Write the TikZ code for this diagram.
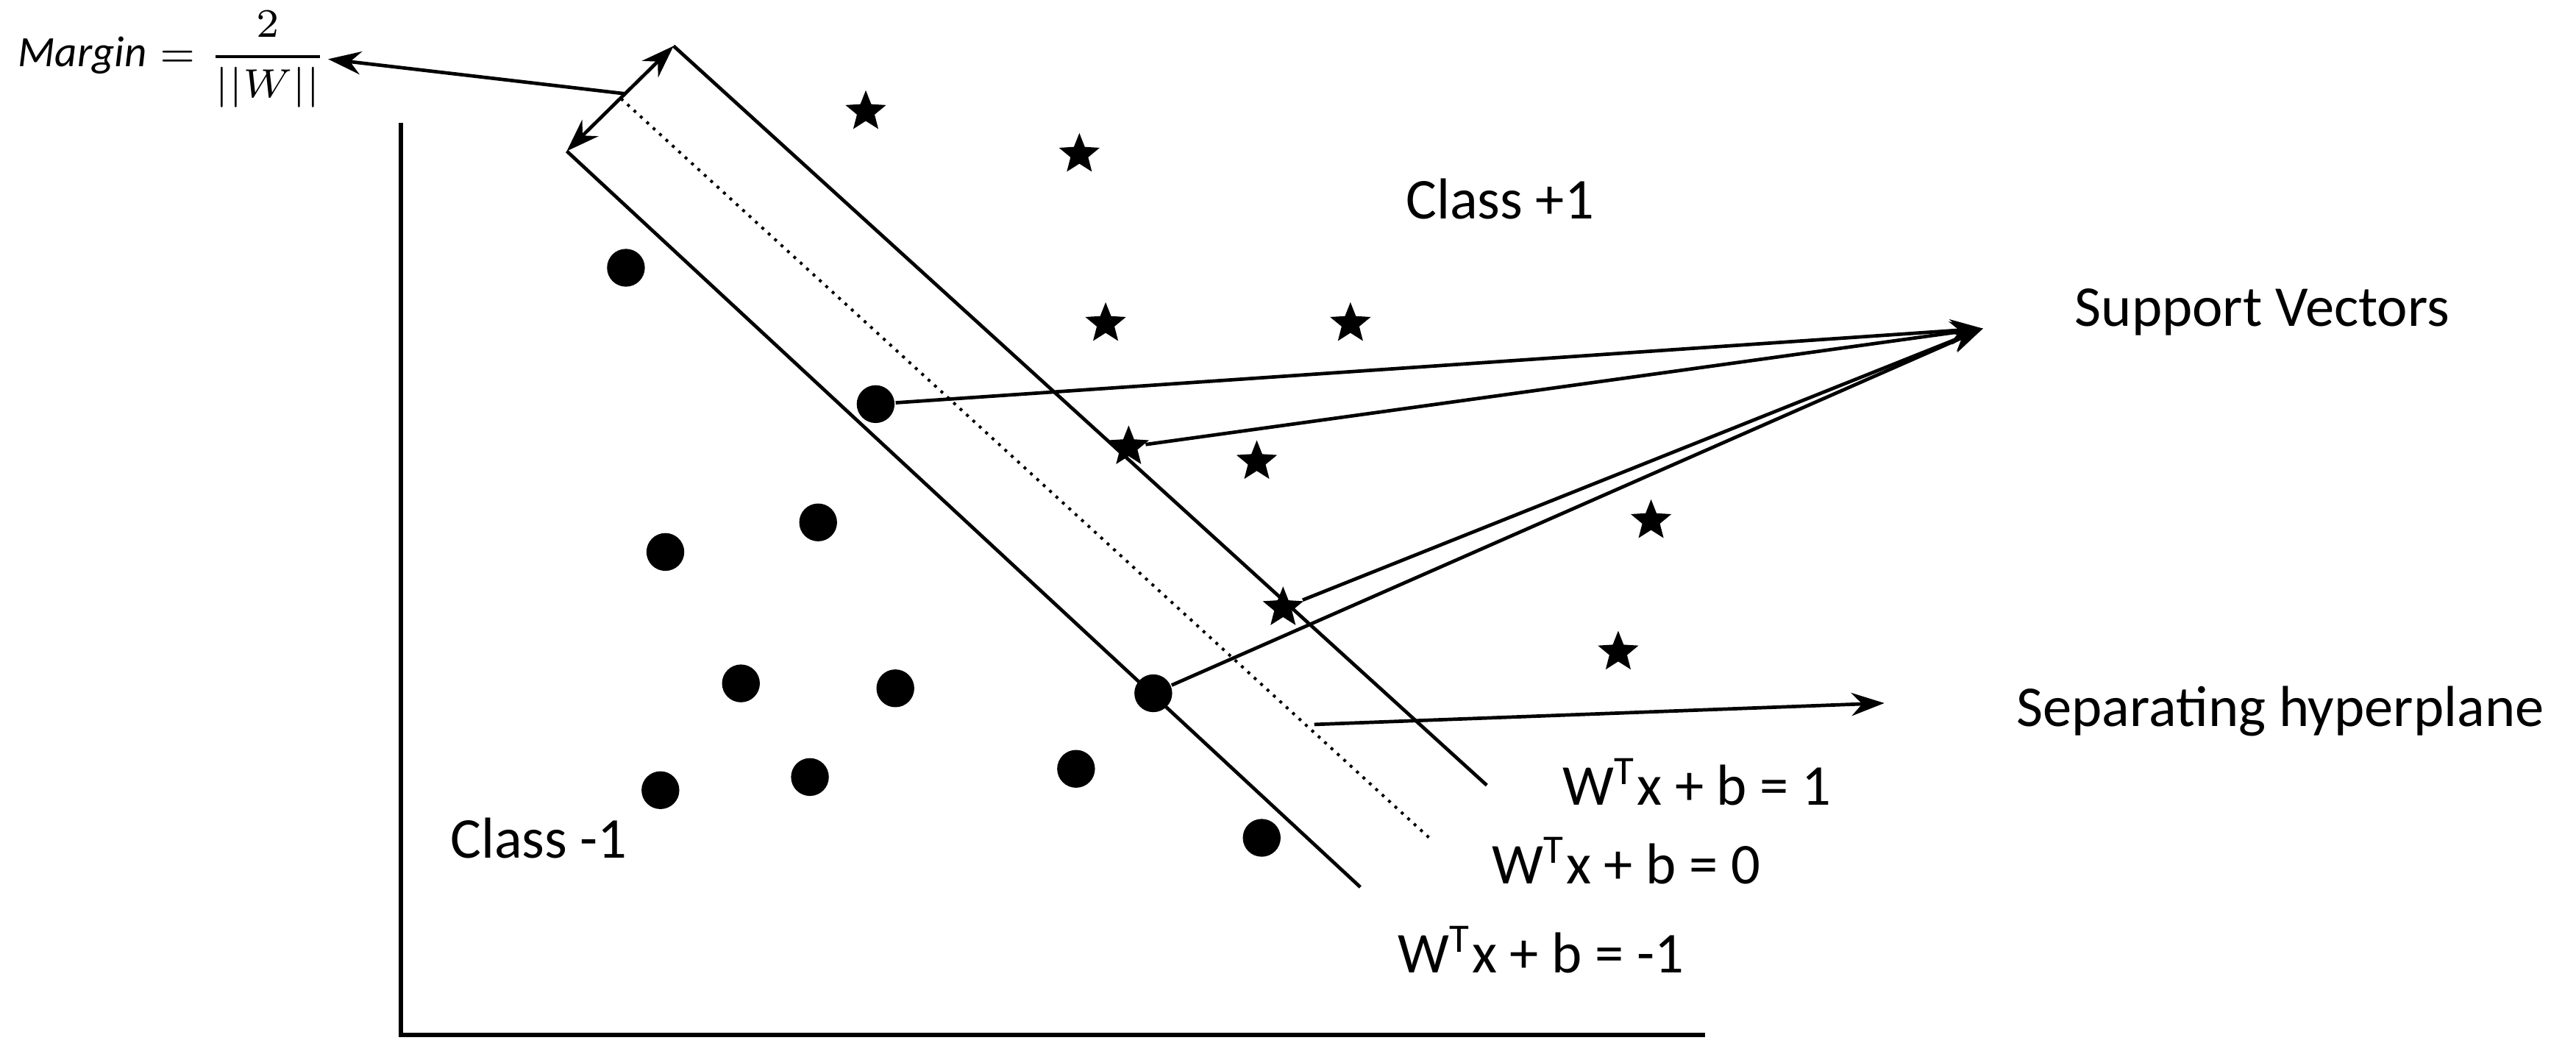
\documentclass[tikz,border=0pt]{standalone}
\usepackage{fontspec}
\setmainfont{Carlito}
\usetikzlibrary{shapes.geometric,arrows.meta}
\begin{document}
\begin{tikzpicture}[x=0.01cm,y=-0.01cm,
  dot/.style={circle,fill=black,minimum size=0.23cm,inner sep=0pt},
  st/.style={star,star points=5,star point ratio=2.3,fill=black,minimum size=0.26cm,inner sep=0pt},
  lab/.style={font=\fontsize{10}{12}\selectfont,inner sep=0pt},
  arr/.style={-{Stealth[length=0.2cm,width=0.14cm]},line width=0.6pt}]
\useasboundingbox (0,0) rectangle (1568,643);
\coordinate (ytop) at (244,75); \coordinate (org) at (244,630); \coordinate (xend) at (1038,630);
\draw[line width=0.7pt] (ytop) -- (org) -- (xend);
% lines
\coordinate (u1) at (410,28); \coordinate (u2) at (905,478);
\coordinate (m1) at (378,60); \coordinate (m2) at (870,510);
\coordinate (l1) at (345,92); \coordinate (l2) at (828,540);
\draw[line width=0.6pt] (u1) -- (u2);
\draw[line width=0.5pt,densely dotted] (m1) -- (m2);
\draw[line width=0.6pt] (l1) -- (l2);
\draw[{Stealth[length=0.2cm,width=0.14cm]}-{Stealth[length=0.2cm,width=0.14cm]},line width=0.6pt] (l1) -- (u1);
% margin
\node[lab,font=\fontsize{7.5}{9}\selectfont] (mg) at (105,36) {$\mathit{Margin}=\displaystyle\frac{2}{||W||}$};
\coordinate (ms) at (380,57);
\draw[arr] (ms) -- (mg.east);
% stars
\foreach \n/\x/\y in {s1/527/68,s2/657/94,s3/673/197,s4/822/197,s5/687/272,s6/765/281,s7/1005/317,s8/985/397,s9/781/370}
  \node[st] (\n) at (\x,\y) {};
% dots
\foreach \n/\x/\y in {d1/381/163,d2/533/246,d3/405/336,d4/498/318,d5/451/416,d6/545/419,d7/702/422,d8/402/481,d9/493/473,d10/655/468,d11/768/510}
  \node[dot] (\n) at (\x,\y) {};
% support vectors
\coordinate (sv) at (1207,200);
\draw[arr] (d2) -- (sv);
\draw[arr] (s5) -- (sv);
\draw[arr] (s9) -- (sv);
\draw[arr] (d7) -- (sv);
\coordinate (hs) at (800,441); \coordinate (he) at (1147,428);
\draw[arr] (hs) -- (he);
% texts
\node[lab] (c1) at (913,121) {Class +1};
\node[lab] (svt) at (1377,190) {Support Vectors};
\node[lab] (sh) at (1388,433) {Separating hyperplane};
\node[lab] (e1) at (1033,476) {W\textsuperscript{T}x + b = 1};
\node[lab] (e0) at (990,524) {W\textsuperscript{T}x + b = 0};
\node[lab] (em) at (938,578) {W\textsuperscript{T}x + b = -1};
\node[lab] (cm) at (328,510) {Class -1};
\end{tikzpicture}
\end{document}
